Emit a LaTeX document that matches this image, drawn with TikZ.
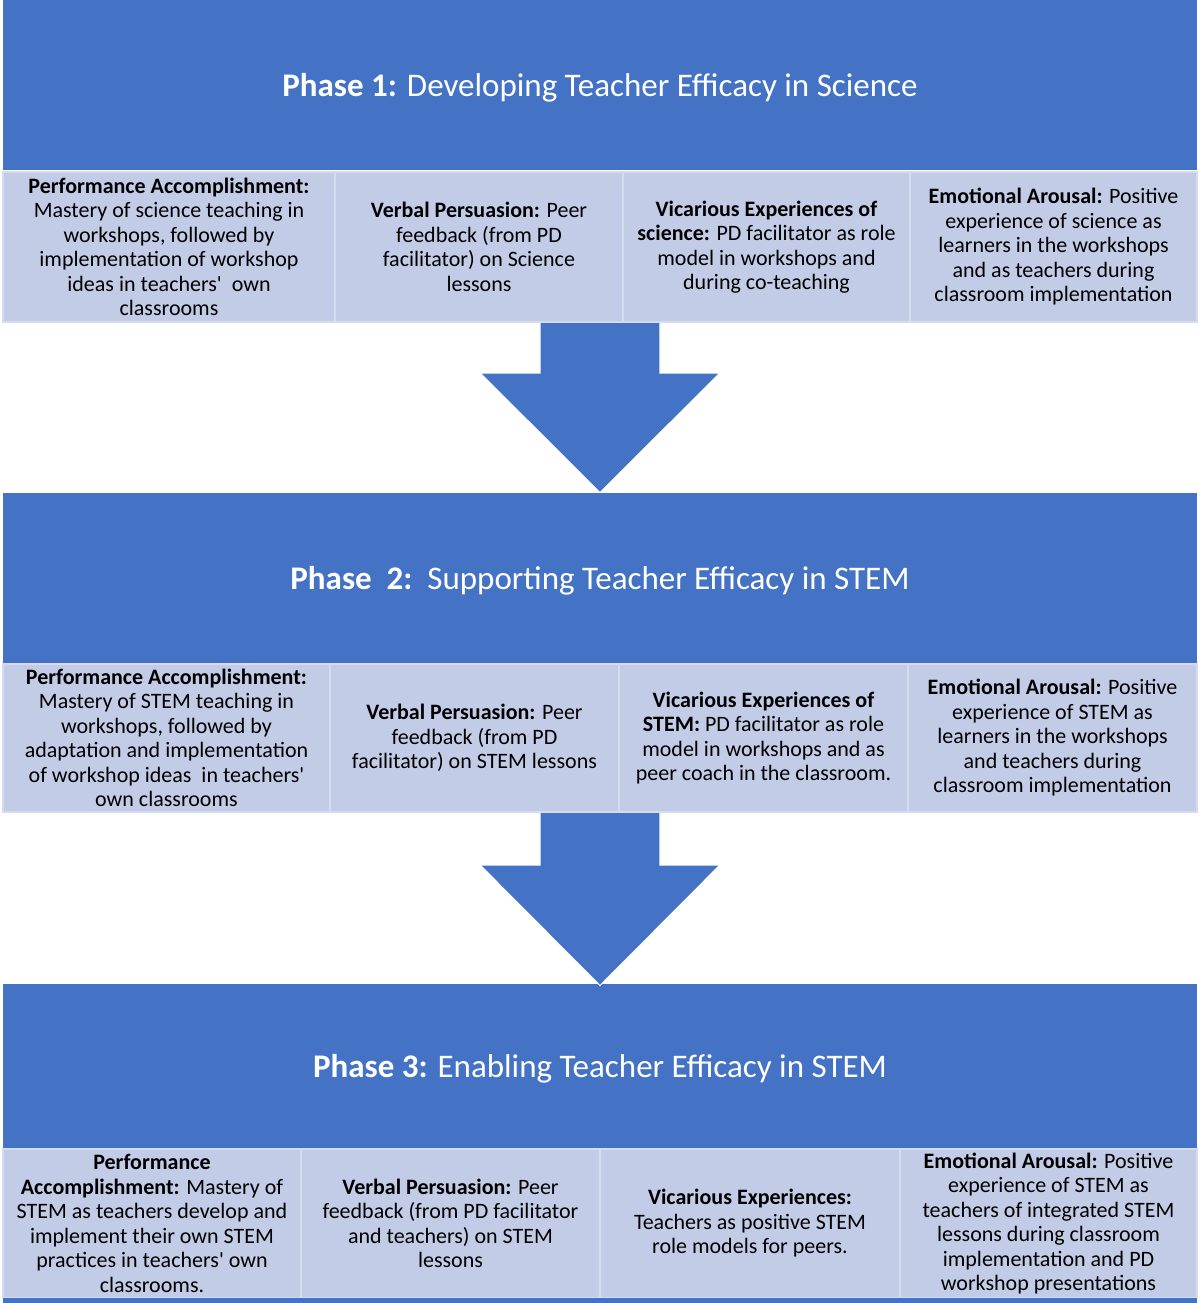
\documentclass[tikz,border=0pt]{standalone}
\usepackage{fontspec}
\setmainfont{Carlito}
\usepackage{tikz}
\usetikzlibrary{calc}
\definecolor{phaseblue}{HTML}{4472C4}
\definecolor{cellblue}{HTML}{C3CCE6}
\definecolor{celledge}{HTML}{D6DCEF}
\newcommand{\apos}{\textquotesingle}
\tikzset{
    x=0.5pt, y=-0.5pt, % one unit is one pixel of the layout
    phase/.style={fill=phaseblue, text=white, inner sep=0pt, minimum width=597pt, text depth=0pt,
        minimum height=#1, font=\fontsize{16.5}{19}\selectfont}, % the dark header bands
    cell/.style={fill=cellblue, draw=celledge, line width=1pt, inner sep=0pt, align=center,
        minimum height=#1, font=\fontsize{11}{12.25}\selectfont}, % the light text boxes
    bigarrow/.style={fill=phaseblue, draw=white, line width=0.6pt}, % the down arrows
}
\begin{document}
\begin{tikzpicture}
    \useasboundingbox (0,0) rectangle (1200,1303);

    % Phase 1
    \node[phase=85pt] (ph1) at (600,85) {\textbf{Phase 1:} Developing Teacher Efficacy in Science};
    \node[cell=75pt, minimum width=166pt] (pa1) at (169,247)
        {\textbf{Performance Accomplishment:}\\ Mastery of science teaching in\\ workshops, followed by\\
         implementation of workshop\\ ideas in teachers\apos~ own\\ classrooms};
    \node[cell=75pt, minimum width=144pt] (vp1) at (479,247)
        {\textbf{Verbal Persuasion:} Peer\\ feedback (from PD\\ facilitator) on Science\\ lessons};
    \node[cell=75pt, minimum width=143.5pt] (ve1) at (766.5,247)
        {\textbf{Vicarious Experiences of}\\ \textbf{science:} PD facilitator as role\\ model in workshops and\\ during co-teaching};
    \node[cell=75pt, minimum width=143.5pt] (ea1) at (1053.5,247)
        {\textbf{Emotional Arousal:} Positive\\ experience of science as\\ learners in the workshops\\
         and as teachers during\\ classroom implementation};

    % Phase 2
    \node[phase=85pt] (ph2) at (600,578) {\textbf{Phase~~2:}~~Supporting Teacher Efficacy in STEM};
    \node[cell=74pt, minimum width=163.5pt] (pa2) at (166.5,738)
        {\textbf{Performance Accomplishment:}\\ Mastery of STEM teaching in\\ workshops, followed by\\
         adaptation and implementation\\ of workshop ideas~ in teachers\apos\\ own classrooms};
    \node[cell=74pt, minimum width=144.5pt] (vp2) at (474.5,738)
        {\textbf{Verbal Persuasion:} Peer\\ feedback (from PD\\ facilitator) on STEM lessons};
    \node[cell=74pt, minimum width=144.5pt] (ve2) at (763.5,738)
        {\textbf{Vicarious Experiences of}\\ \textbf{STEM:} PD facilitator as role\\ model in workshops and as\\ peer coach in the classroom.};
    \node[cell=74pt, minimum width=144.5pt] (ea2) at (1052.5,738)
        {\textbf{Emotional Arousal:} Positive\\ experience of STEM as\\ learners in the workshops\\
         and teachers during\\ classroom implementation};

    % Phase 3
    \node[phase=82pt] (ph3) at (600,1066) {\textbf{Phase 3:} Enabling Teacher Efficacy in STEM};
    \node[cell=74.5pt, minimum width=149pt] (pa3) at (152,1223.5)
        {\textbf{Performance}\\ \textbf{Accomplishment:} Mastery of\\ STEM as teachers develop and\\
         implement their own STEM\\ practices in teachers\apos{} own\\ classrooms.};
    \node[cell=74.5pt, minimum width=149.5pt] (vp3) at (450.5,1223.5)
        {\textbf{Verbal Persuasion:} Peer\\ feedback (from PD facilitator\\ and teachers) on STEM\\ lessons};
    \node[cell=74.5pt, minimum width=150pt] (ve3) at (750,1223.5)
        {\textbf{Vicarious Experiences:}\\ Teachers as positive STEM\\ role models for peers.};
    \node[cell=74.5pt, minimum width=148.5pt] (ea3) at (1048.5,1223.5)
        {\textbf{Emotional Arousal:} Positive\\ experience of STEM as\\ teachers of integrated STEM\\
         lessons during classroom\\ implementation and PD\\ workshop presentations};
    \fill[phaseblue] (3,1298) rectangle (1197,1303);

    % arrows between the phases
    \coordinate (a1) at (600,323);
    \coordinate (a2) at (600,813);
    \draw[bigarrow] ($(a1)+(-60,0)$) -- ($(a1)+(-60,50)$) -- ($(a1)+(-120,50)$) -- (ph2.north)
        -- ($(a1)+(120,50)$) -- ($(a1)+(60,50)$) -- ($(a1)+(60,0)$);
    \draw[bigarrow] ($(a2)+(-60,0)$) -- ($(a2)+(-60,52)$) -- ($(a2)+(-120,52)$) -- ($(ph3.north)+(0,2)$)
        -- ($(a2)+(120,52)$) -- ($(a2)+(60,52)$) -- ($(a2)+(60,0)$);
\end{tikzpicture}
\end{document}
